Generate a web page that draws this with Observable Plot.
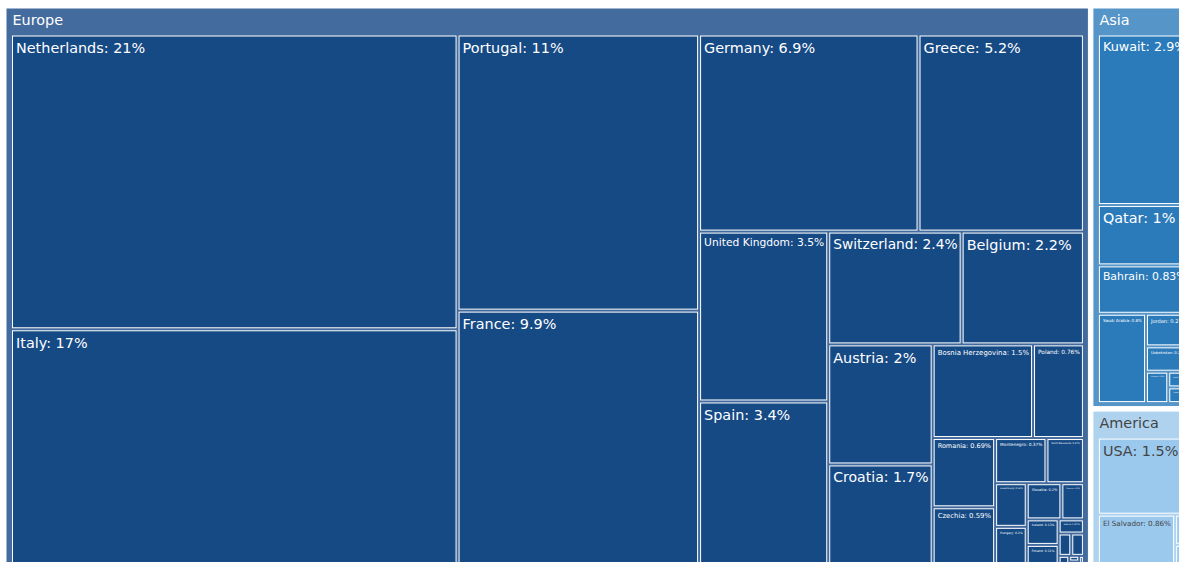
<!DOCTYPE html>
<html>
<head>
<meta charset="utf-8">
<script src="https://cdn.jsdelivr.net/npm/d3@7"></script>
<script src="https://cdn.jsdelivr.net/npm/@observablehq/plot@0.6"></script>
<style>
html, body { margin: 0; padding: 0; overflow: hidden; background: #fff; }
</style>
</head>
<body>
<div id="chart"></div>
<script>
// ---- data (percent share) ----
const continents = ["Europe", "Asia", "America"];

const europeCountries = ["Netherlands", "Italy", "Portugal", "France", "Germany", "Greece",
  "United Kingdom", "Spain", "Switzerland", "Belgium", "Austria", "Croatia",
  "Bosnia Herzegovina", "Poland", "Romania", "Czechia", "Montenegro", "North Macedonia",
  "Luxembourg", "Hungary", "Slovakia", "Slovenia", "Iceland", "Finland",
  "Ireland", "Denmark", "Sweden", "Serbia", "Bulgaria", "Malta", "Cyprus"];
const europeValues = [21, 16.9, 10.64, 9.86, 6.9, 5.2,
  3.5, 3.4, 2.4, 2.2, 2, 1.7,
  1.5, 0.76, 0.69, 0.59, 0.37, 0.27,
  0.22, 0.2, 0.2, 0.13, 0.13, 0.11,
  0.057, 0.045, 0.045, 0.018, 0.009, 0.008, 0.008];

const asiaCountries = ["Kuwait", "Qatar", "Bahrain", "Saudi Arabia", "Jordan", "Uzbekistan",
  "Lebanon", "Israel", "Oman"];
const asiaValues = [2.94, 1.04, 0.834, 0.8, 0.27, 0.21, 0.13, 0.065, 0.065];

const americaCountries = ["USA", "El Salvador", "Mexico", "Canada"];
const americaValues = [1.54, 0.864, 0.1, 0.072];

// ---- styles ----
const headerFill = {Europe: "#446b9e", Asia: "#5595c8", America: "#afd3ef"};
const leafFill = {Europe: "#164a85", Asia: "#2b7bba", America: "#9bc9ee"};
const textFill = {Europe: "#ffffff", Asia: "#ffffff", America: "#444444"};
const FONT = "DejaVu Sans";
const BASE = 14.4;
const fmt = d3.format(".2~r");

// ---- hierarchy ----
const lists = {
  Europe: [europeCountries, europeValues],
  Asia: [asiaCountries, asiaValues],
  America: [americaCountries, americaValues]
};
const tree = {
  name: "World",
  children: continents.map(c => ({
    name: c,
    children: lists[c][0].map((n, i) => ({name: n, value: lists[c][1][i]}))
  }))
};

const W = 1179, H = 562;
const OX = 6, OY = 8;
const root = d3.hierarchy(tree)
  .sum(d => d.value || 0)
  .sort((a, b) => b.value - a.value);

d3.treemap()
  .tile(d3.treemapSquarify.ratio(1))
  .size([1189, 562])
  .paddingInner(d => d.depth === 0 ? 4.5 : 3)
  .paddingTop(d => d.depth === 1 ? 28 : 0)
  .paddingLeft(d => d.depth === 1 ? 6.5 : 0)
  .paddingRight(d => d.depth === 1 ? 6 : 0)
  .paddingBottom(d => d.depth === 1 ? 5 : 0)(root);

const groups = root.children.map(d => ({
  name: d.data.name, x0: d.x0, x1: d.x1, y0: d.y0, y1: d.y1
}));

const ctx = document.createElement("canvas").getContext("2d");
ctx.font = `${BASE}px "${FONT}"`;

const leaves = root.leaves().map(d => {
  const cont = d.parent.data.name;
  const label = `${d.data.name}: ${fmt(d.data.value)}%`;
  const tw = ctx.measureText(label).width;
  const w = d.x1 - d.x0, h = d.y1 - d.y0;
  const s = Math.max(0, Math.min(1, (w - 6) / tw, (h - 4) / (BASE * 1.15)));
  return {
    cont, label, x0: d.x0, x1: d.x1, y0: d.y0, y1: d.y1,
    fs: BASE * s, tx: d.x0 + 3, ty: d.y0 + 2 + 4 * s
  };
});
const leafLabels = leaves.filter(d => d.fs >= 1);

const chart = Plot.plot({
  width: W,
  height: H,
  margin: 0,
  x: {domain: [-OX, W - OX], range: [0, W], axis: null},
  y: {domain: [-OY, H - OY], range: [0, H], axis: null},
  color: {type: "identity"},
  style: {background: "#fff", overflow: "hidden", fontFamily: FONT},
  marks: [
    Plot.rect(groups, {
      x1: "x0", x2: "x1", y1: "y0", y2: "y1",
      fill: d => headerFill[d.name], stroke: "#fff", strokeWidth: 1
    }),
    Plot.rect(leaves, {
      x1: "x0", x2: "x1", y1: "y0", y2: "y1",
      fill: d => leafFill[d.cont], stroke: "#fff", strokeWidth: 1
    }),
    Plot.text(groups, {
      x: d => d.x0 + 6, y: d => d.y0 + 6, text: "name",
      textAnchor: "start", lineAnchor: "top",
      fontSize: BASE, fontFamily: FONT, fill: d => textFill[d.name]
    }),
    Plot.text(leafLabels, {
      x: "tx", y: "ty", text: "label",
      textAnchor: "start", lineAnchor: "top",
      fontSize: "fs", fontFamily: FONT, fill: d => textFill[d.cont]
    })
  ]
});

document.getElementById("chart").appendChild(chart);
</script>
</body>
</html>
